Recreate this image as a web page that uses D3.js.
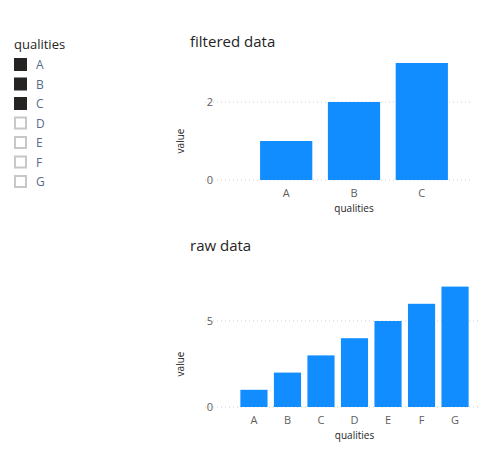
<!DOCTYPE html>
<html><head><meta charset="utf-8">
<script src="https://cdn.jsdelivr.net/npm/d3@7"></script>
<style>body{margin:0;background:#fff;font-family:"Open Sans",sans-serif}</style>
</head><body><svg id="c" width="496" height="465"></svg>
<script>
const categories = ["A", "B", "C", "D", "E", "F", "G"];
const rawValues = [1, 2, 3, 4, 5, 6, 7];
const selected = ["A", "B", "C"];
const svg = d3.select("#c");

// legend
svg.append("text").attr("x", 14).attr("y", 49).attr("font-size", 13).attr("fill", "#252423").text("qualities");
categories.forEach((c, i) => {
  const y = 58 + i * 19.5;
  const on = selected.includes(c);
  svg.append("rect").attr("x", on ? 14 : 15).attr("y", on ? y : y + 1).attr("width", on ? 13 : 11).attr("height", on ? 13 : 11)
    .attr("fill", on ? "#252423" : "#fff").attr("stroke", on ? "none" : "#c8c8c8").attr("stroke-width", 2);
  svg.append("text").attr("x", 36).attr("y", y + 11).attr("font-size", 12).attr("fill", "#5a6a8a").text(c);
});

function chart(opt) {
  const g = svg.append("g");
  g.append("text").attr("x", 190).attr("y", opt.titleY).attr("font-size", 15).attr("fill", "#252423").text(opt.title);
  const x = d3.scaleBand().domain(opt.cats).range(opt.xr).padding(opt.pad);
  const y = d3.scaleLinear().domain(opt.yd).range(opt.yr);
  opt.ticks.forEach(t => {
    g.append("line").attr("x1", opt.gridX[0]).attr("x2", opt.gridX[1]).attr("y1", y(t)).attr("y2", y(t))
      .attr("stroke", "#d0d0d0").attr("stroke-dasharray", "1,3");
    g.append("text").attr("x", opt.tickX).attr("y", y(t) + 4).attr("text-anchor", "end").attr("font-size", 11).attr("fill", "#605e5c").text(t);
  });
  g.selectAll("rect.bar").data(opt.cats).join("rect").attr("class", "bar")
    .attr("x", d => x(d)).attr("width", x.bandwidth())
    .attr("y", (d, i) => y(opt.vals[i])).attr("height", (d, i) => y(0) - y(opt.vals[i]))
    .attr("fill", "#118dff");
  g.selectAll("text.xl").data(opt.cats).join("text").attr("class", "xl")
    .attr("x", d => x(d) + x.bandwidth() / 2).attr("y", y(0) + 17).attr("text-anchor", "middle")
    .attr("font-size", 11).attr("fill", "#605e5c").text(d => d);
  g.append("text").attr("x", (opt.xr[0] + opt.xr[1]) / 2).attr("y", y(0) + 32).attr("text-anchor", "middle")
    .attr("font-size", 10).attr("fill", "#252423").text("qualities");
  g.append("text").attr("transform", `translate(184,${(y(0) + opt.yr[1]) / 2}) rotate(-90)`).attr("text-anchor", "middle")
    .attr("font-size", 10).attr("fill", "#252423").text("value");
}

chart({ title: "filtered data", titleY: 47, cats: selected, vals: rawValues.slice(0, 3),
  xr: [244.5, 463.5], pad: 0.23, yd: [0, 2], yr: [180, 102], ticks: [0, 2], gridX: [205, 470], tickX: 213 });
chart({ title: "raw data", titleY: 251, cats: categories, vals: rawValues,
  xr: [234, 475], pad: 0.19, yd: [0, 5], yr: [407, 321], ticks: [0, 5], gridX: [205, 480], tickX: 213 });
</script></body></html>
